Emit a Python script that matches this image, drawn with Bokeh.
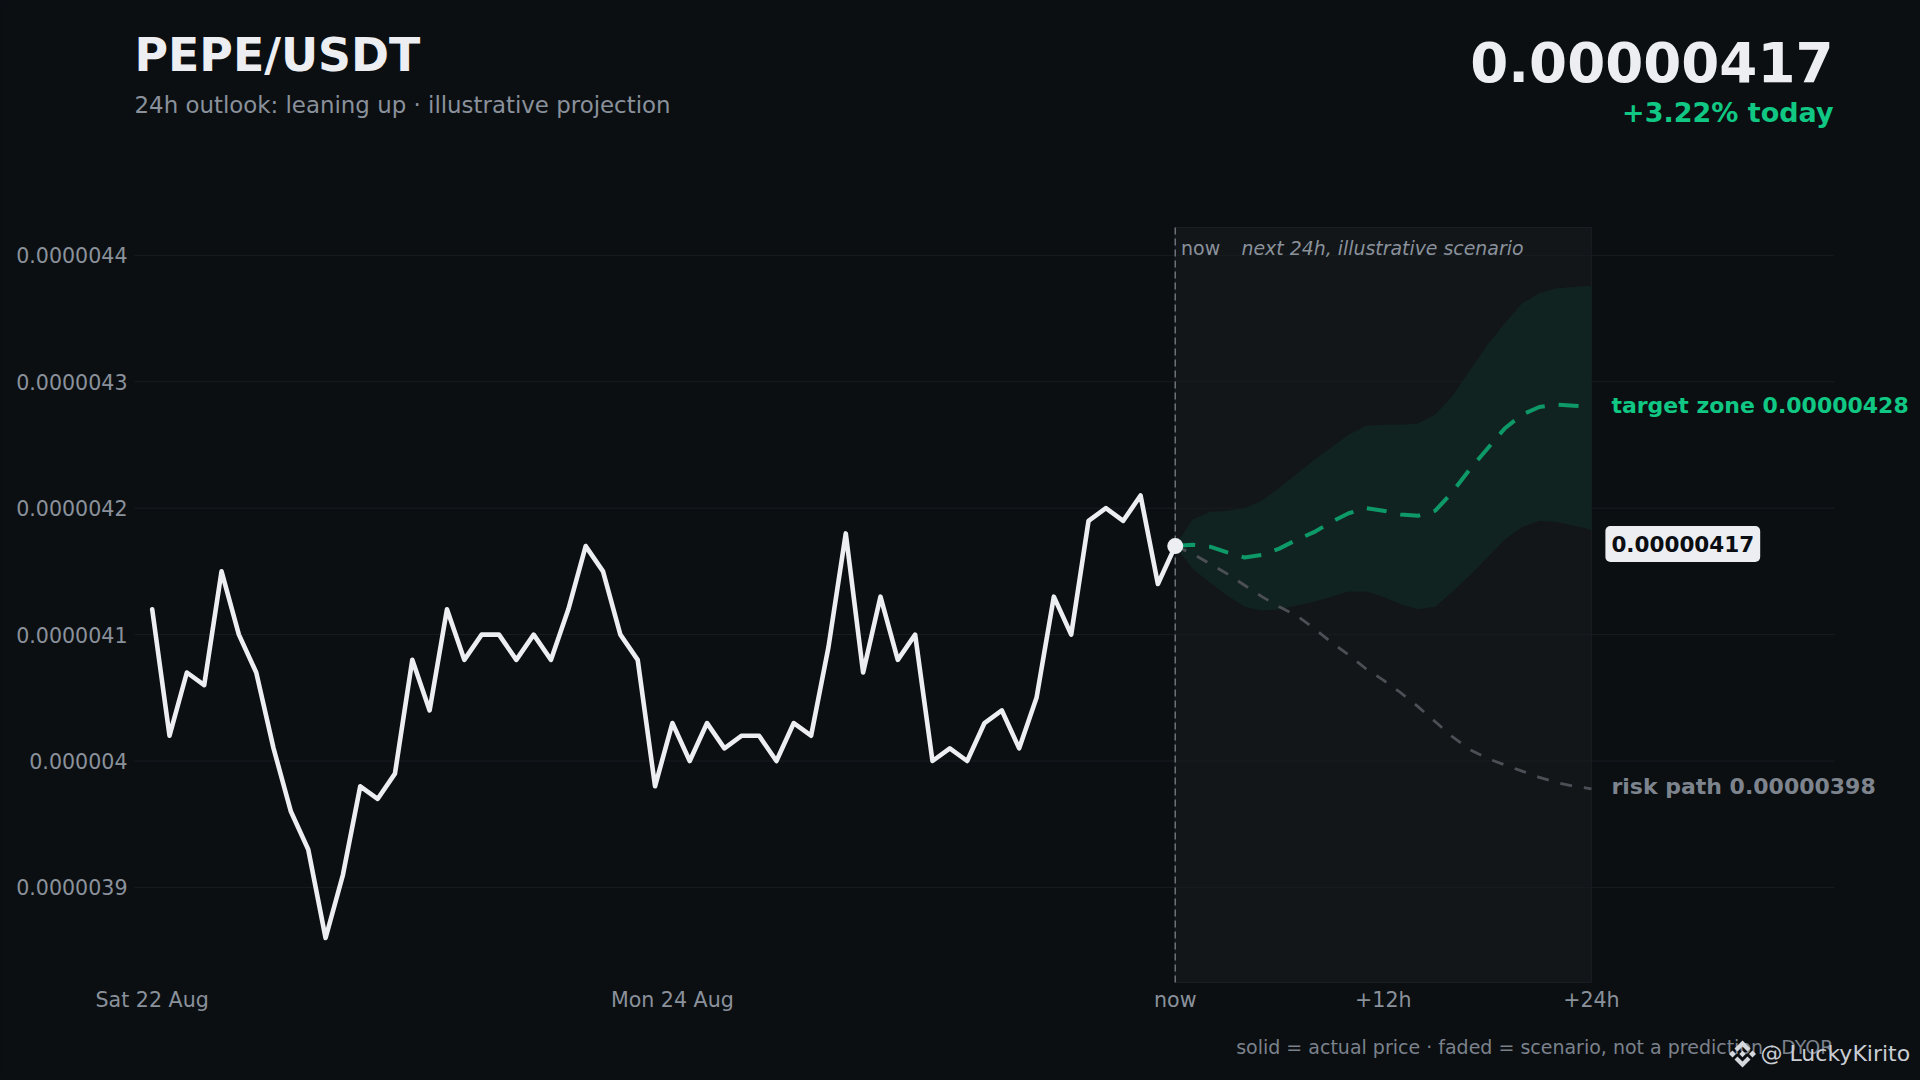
from bokeh.embed import file_html
from bokeh.resources import INLINE
from bokeh.plotting import figure
from bokeh.models import Label, FixedTicker, PolyAnnotation, GlobalInlineStyleSheet

# ---- data: prices in units of 1e-8 USDT ----
price = [412, 402, 407, 406, 415, 410, 407, 401, 396, 393, 386, 391, 398, 397, 399,
         408, 404, 412, 408, 410, 410, 408, 410, 408, 412, 417, 415, 410, 408, 398,
         403, 400, 403, 401, 402, 402, 400, 403, 402, 409, 418, 407, 413, 408, 410,
         400, 401, 400, 403, 404, 401, 405, 413, 410, 419, 420, 419, 421, 414, 417]
target = [417.0, 417.1, 416.95, 416.5, 416.1, 416.3, 416.8, 417.5, 418.1, 418.9, 419.6, 420.0, 419.8,
          419.5, 419.4, 419.8, 421.3, 423.1, 424.7, 426.3, 427.4, 428.0, 428.2, 428.1, 428.0]
risk = [417.0, 416.4, 415.6, 414.8, 413.9, 413.0, 412.2, 411.5, 410.5, 409.4, 408.4, 407.3, 406.4,
        405.4, 404.3, 403.1, 401.9, 400.9, 400.2, 399.7, 399.2, 398.7, 398.3, 398.0, 397.8]
band_upper = [417.0, 419.1, 419.7, 419.8, 420.0, 420.6, 421.6, 422.7, 423.8, 424.8, 425.8, 426.5, 426.6,
              426.6, 426.7, 427.4, 428.9, 430.9, 432.9, 434.6, 436.2, 437.0, 437.4, 437.5, 437.6]
band_lower = [417.0, 415.2, 414.1, 413.1, 412.2, 411.9, 412.0, 412.3, 412.6, 413.0, 413.4, 413.4, 413.0,
              412.4, 412.0, 412.2, 413.4, 414.7, 416.1, 417.5, 418.5, 419.0, 418.9, 418.6, 418.3]
y_ticks = [390, 400, 410, 420, 430, 440]
y_labels = ["0.0000039", "0.000004", "0.0000041", "0.0000042", "0.0000043", "0.0000044"]
x_ticks = [0, 30, 59, 71, 83]
x_labels = ["Sat 22 Aug", "Mon 24 Aug", "now", "+12h", "+24h"]

BG = "#0b0f12"
SHADE = "#121619"
GREENFILL = "#112320"
GRID = "#181d21"
TEXT = "#eceef2"
MUTED = "#8a919b"
GREEN = "#10c883"
FONT = "DejaVu Sans"

# The frame fills the whole canvas so that no text is clipped; the plotting
# area proper spans page px 134..1834 x 227..982.
W, H = 1916, 1076
AX0, AX1, AY0, AY1 = -1.02, 97.02, 382.48, 442.2
PL, PR, PT, PB = 134, 1834, 227, 982
kx = (AX1 - AX0) / (PR - PL)
ky = (AY1 - AY0) / (PB - PT)
x_range = (AX0 - PL * kx, AX1 + (W - PR) * kx)
y_range = (AY0 - (H - PB) * ky, AY1 + PT * ky)


def sy(py):
    return H - py


p = figure(width=W, height=H, output_backend="svg", toolbar_location=None,
           x_range=x_range, y_range=y_range,
           min_border_left=0, min_border_right=0, min_border_top=0, min_border_bottom=0,
           background_fill_color=BG, border_fill_color=BG, outline_line_color=None)
p.stylesheets = [GlobalInlineStyleSheet(css="html,body{background:%s;}" % BG)]

p.xgrid.visible = False
p.ygrid.visible = False

for ax in (p.xaxis[0], p.yaxis[0]):
    ax.axis_line_color = None
    ax.major_tick_line_color = None
    ax.minor_tick_line_color = None
    ax.major_tick_in = 0
    ax.major_tick_out = 0
    ax.minor_tick_in = 0
    ax.minor_tick_out = 0
    ax.major_label_text_color = MUTED
    ax.major_label_text_font = FONT
    ax.major_label_text_font_size = "20.6px"
p.xaxis[0].ticker = FixedTicker(ticks=x_ticks)
p.xaxis[0].major_label_overrides = dict(zip(x_ticks, x_labels))
p.xaxis[0].major_label_standoff = 5
p.xaxis[0].fixed_location = AY0
p.yaxis[0].ticker = FixedTicker(ticks=y_ticks)
p.yaxis[0].major_label_overrides = dict(zip(y_ticks, y_labels))
p.yaxis[0].major_label_standoff = 7
p.yaxis[0].fixed_location = AX0

now_i = len(price) - 1
xs_hist = list(range(len(price)))
xs_fc = [now_i + k for k in range(len(target))]

p.quad(left=[xs_fc[0]], right=[xs_fc[-1]], top=[AY1], bottom=[AY0],
       fill_color=SHADE, line_color="#1a1f23", line_width=1)
p.segment(x0=[AX0] * len(y_ticks), x1=[AX1] * len(y_ticks), y0=y_ticks, y1=y_ticks,
          line_color=GRID, line_width=1)
p.varea(xs_fc, band_lower, band_upper, fill_color=GREENFILL)
p.line(xs_fc, risk, line_color="#4c5056", line_width=2.8, line_dash="12 12")
p.line(xs_fc, target, line_color="#0e9a68", line_width=4, line_dash="20 14")
p.line([now_i, now_i], [AY0, AY1], line_color="#72787f", line_width=1.4, line_dash="7 4")
p.line(xs_hist, price, line_color=TEXT, line_width=4.6, line_join="round", line_cap="round")
p.scatter([now_i], [price[-1]], size=16, marker="circle", fill_color=TEXT, line_color=None)


def text(s, px, py, size, color, bold=False, italic=False, align="left", baseline="alphabetic"):
    style = "bold" if bold else ("italic" if italic else "normal")
    p.add_layout(Label(x=px, y=sy(py), x_units="screen", y_units="screen", text=s,
                       text_font=FONT, text_font_size=size, text_color=color,
                       text_font_style=style, text_align=align, text_baseline=baseline))


text("PEPE/USDT", 134, 54, "45.8px", TEXT, bold=True)
text("24h outlook: leaning up · illustrative projection", 134, 104.5, "22.9px", MUTED)
text("0.00000417", 1833, 61.7, "54.7px", TEXT, bold=True, align="right")
text("+3.22% today", 1833, 112.2, "27px", GREEN, bold=True, align="right")
text("now", 1180.5, 247.5, "19px", MUTED)
text("next 24h, illustrative scenario", 1241, 247.5, "18.9px", MUTED, italic=True)
text("solid = actual price · faded = scenario, not a prediction · DYOR", 1833, 1046, "19px", "#7b828c", align="right")

# end-of-line labels anchored on the data
p.add_layout(Label(x=xs_fc[-1], y=target[-1], x_offset=20, y_offset=2, text="target zone 0.00000428",
                   text_font=FONT, text_font_size="22px", text_font_style="bold", text_color=GREEN,
                   text_baseline="middle"))
p.add_layout(Label(x=xs_fc[-1], y=398, x_offset=20, text="risk path 0.00000398",
                   text_font=FONT, text_font_size="22px", text_font_style="bold", text_color="#7d848e",
                   text_baseline="middle"))
p.add_layout(Label(x=xs_fc[-1], y=price[-1], x_offset=14, y_offset=2, text="0.00000417", text_font=FONT,
                   text_font_size="21.5px", text_font_style="bold", text_color="#0a0e12",
                   text_baseline="middle", background_fill_color=TEXT, padding=(6, 10), border_radius=5))

# watermark
LOGO = "#d5d9de"
cx, cy = 1742, 1053.5
logo_polys = [
    [(0, -13.5), (8, -5.5), (5, -2.5), (0, -7.5), (-5, -2.5), (-8, -5.5)],
    [(0, 13.5), (8, 5.5), (5, 2.5), (0, 7.5), (-5, 2.5), (-8, 5.5)],
    [(0, -3.2), (3.2, 0), (0, 3.2), (-3.2, 0)],
    [(-13.5, 0), (-10, -3.5), (-6.5, 0), (-10, 3.5)],
    [(13.5, 0), (10, -3.5), (6.5, 0), (10, 3.5)],
]
for poly in logo_polys:
    p.add_layout(PolyAnnotation(xs=[cx + a for a, b in poly], ys=[sy(cy + b) for a, b in poly],
                                xs_units="screen", ys_units="screen", fill_color=LOGO, fill_alpha=1,
                                line_color=None))
text("@ LuckyKirito", 1760, 1053, "22px", "#c9cdd3")

open("out.html", "w").write(file_html(p, INLINE))
